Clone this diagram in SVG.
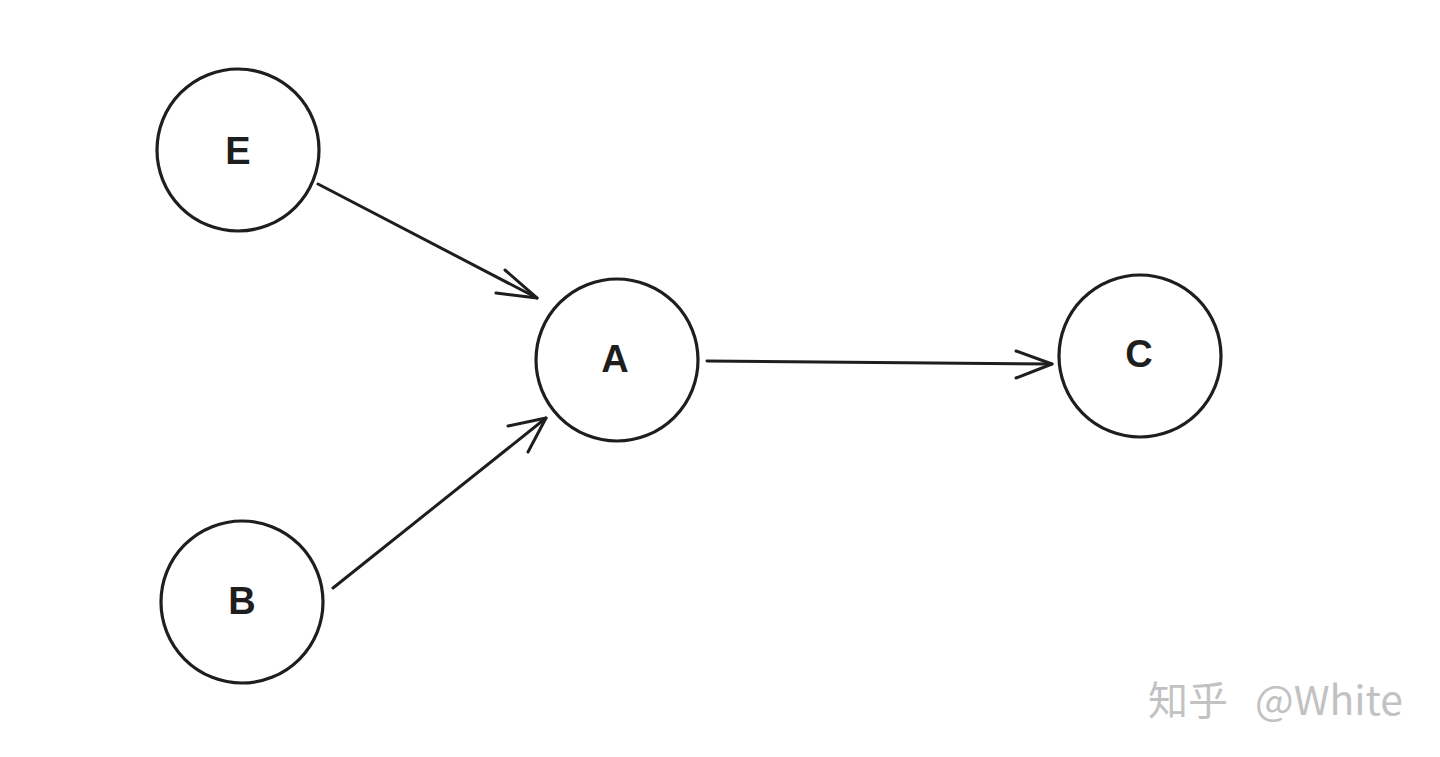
<svg xmlns="http://www.w3.org/2000/svg" width="1440" height="757" viewBox="0 0 1440 757">
<style>
.node circle{fill:none;stroke:#1e1e1e;stroke-width:3.2}
.node text{font-family:"Comic Sans MS","Liberation Sans",sans-serif;font-size:38px;font-weight:bold;fill:#1e1e1e;text-anchor:middle;dominant-baseline:central}
.edge{fill:none;stroke:#1e1e1e;stroke-width:3;stroke-linecap:round}
.head{fill:none;stroke:#1e1e1e;stroke-width:3;stroke-linecap:round;stroke-linejoin:round}
.wm{font-family:"Noto Sans CJK SC","Liberation Sans",sans-serif;font-size:40px;fill:#c2c2c2}
</style>
<rect width="1440" height="757" fill="#fff"/>
<g id="connectors">
<path class="edge" d="M318,184 L537,298"/>
<path class="head" d="M505,270 L537,298 L496,293"/>
<path class="edge" d="M333,588 L546,418"/>
<path class="head" d="M508,426 L546,418 L528,452"/>
<path class="edge" d="M707,361 L1052,364"/>
<path class="head" d="M1016,351 L1052,364 L1016,378"/>
</g>
<g id="node-E" class="node"><circle cx="238" cy="150" r="81"/><text x="238" y="151">E</text></g>
<g id="node-A" class="node"><circle cx="617" cy="360" r="81"/><text x="615" y="359">A</text></g>
<g id="node-C" class="node"><circle cx="1140" cy="356" r="81"/><text x="1139" y="354">C</text></g>
<g id="node-B" class="node"><circle cx="242" cy="602" r="81"/><text x="242" y="601">B</text></g>
<text class="wm" x="1148" y="715"><tspan>知乎</tspan><tspan x="1255" textLength="148" lengthAdjust="spacingAndGlyphs">@White</tspan></text>
</svg>
